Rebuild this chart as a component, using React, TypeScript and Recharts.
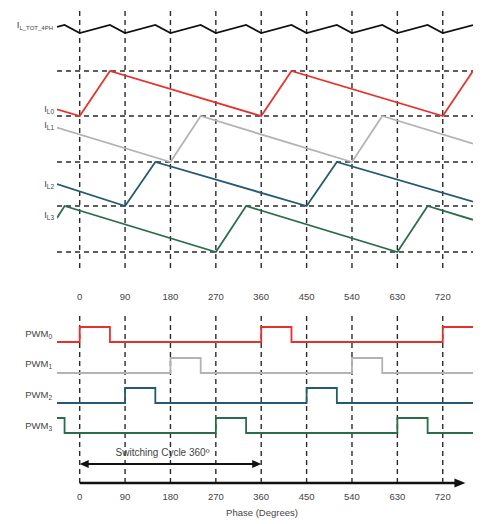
import React from 'react';
import { ComposedChart, Line, XAxis, YAxis, ReferenceLine } from 'recharts';

// ---------- data ----------
const phaseTicks = [0, 90, 180, 270, 360, 450, 540, 630, 720];
const phaseMin = -45;
const phaseMax = 780;

// total inductor current (normalised ripple 0..1)
const totPhase = [-45, -30, 0, 60, 90, 150, 180, 240, 270, 330, 360, 420, 450, 510, 540, 600, 630, 690, 720, 780];
const totCurrent = [0.75, 1, 0, 1, 0, 1, 0, 1, 0, 1, 0, 1, 0, 1, 0, 1, 0, 1, 0, 1];

// phase currents (normalised 0..1)
const il0Phase = [-45, 0, 60, 360, 420, 720, 780];
const il0Current = [0.15, 0, 1, 0, 1, 0, 1];
const il1Phase = [-45, 180, 240, 540, 600, 780];
const il1Current = [0.75, 0, 1, 0, 1, 0.4];
const il2Phase = [-45, 90, 150, 450, 510, 780];
const il2Current = [0.5, 0, 1, 0, 1, 0.1];
const il3Phase = [-45, -30, 270, 330, 630, 690, 780];
const il3Current = [0.74, 1, 0, 1, 0, 1, 0.7];

// PWM states (0 = low, 1 = high), step after each phase
const pwm0Phase = [-45, 0, 60, 360, 420, 720, 780];
const pwm0State = [0, 1, 0, 1, 0, 1, 1];
const pwm1Phase = [-45, 180, 240, 540, 600, 780];
const pwm1State = [0, 1, 0, 1, 0, 0];
const pwm2Phase = [-45, 90, 150, 450, 510, 780];
const pwm2State = [0, 1, 0, 1, 0, 0];
const pwm3Phase = [-45, -30, 270, 330, 630, 690, 780];
const pwm3State = [1, 0, 1, 0, 1, 0, 0];

const switchingCycle = [0, 360];
const axisArrowEnd = 765;

// ---------- styles / layout ----------
const FONT = '"Liberation Sans", Arial, Helvetica, sans-serif';
const TEXT = '#444';
const GRID = '#2b2b2b';
const RED = '#e8302a';
const GRAY = '#b3b3b3';
const BLUE = '#225a72';
const GREEN = '#2a6d4a';
const BLACK = '#111';

const W = 500;
const H = 524;
const LEFT = 57;
const RIGHT = 27;

// chart 1 plot area
const T1 = 8;
const B1 = 268;
const CH1 = 310;
// chart 2 plot area
const T2 = 312;
const B2 = 483;

const toPoints = (ps: number[], vs: number[]) => ps.map((p, i) => ({ p, v: vs[i] }));

// domain so that value 0 lands at pixel y0 and value 1 at pixel y1
const domainFor = (y0: number, y1: number, top: number, bottom: number): [number, number] => {
  const u = y0 - y1;
  const a = -(bottom - y0) / u;
  return [a, a + (bottom - top) / u];
};

const rows1 = {
  tot: domainFor(33, 25, T1, B1),
  l0: domainFor(116, 71, T1, B1),
  l1: domainFor(162, 116, T1, B1),
  l2: domainFor(206, 162, T1, B1),
  l3: domainFor(252, 206, T1, B1),
};
const rows2 = {
  p0: domainFor(342, 327, T2, B2),
  p1: domainFor(373, 358, T2, B2),
  p2: domainFor(403, 388, T2, B2),
  p3: domainFor(433, 418, T2, B2),
};
const switchArrowLevel = (B2 - 464) / (B2 - T2);

const dash = { stroke: GRID, strokeWidth: 1.4, strokeDasharray: '5 4' };

const DoubleArrow = (props: any) => {
  const { x1, y1, x2 } = props;
  const y = y1;
  const hl = 9;
  const hw = 4;
  return (
    <g>
      <line x1={x1 + hl - 1} y1={y} x2={x2 - hl + 1} y2={y} stroke={BLACK} strokeWidth={1.8} />
      <polygon points={`${x1},${y} ${x1 + hl},${y - hw} ${x1 + hl},${y + hw}`} fill={BLACK} />
      <polygon points={`${x2},${y} ${x2 - hl},${y - hw} ${x2 - hl},${y + hw}`} fill={BLACK} />
      <text x={(x1 + x2) / 2 - 8} y={y - 8} textAnchor="middle" fontSize={10} fill={TEXT} fontFamily={FONT}>
        Switching Cycle 360º
      </text>
    </g>
  );
};

const AxisArrow = (props: any) => {
  const { x1, y1, x2 } = props;
  const y = y1;
  const hl = 11;
  const hw = 4.5;
  return (
    <g>
      <line x1={x1} y1={y} x2={x2 - hl + 1} y2={y} stroke={BLACK} strokeWidth={2.4} />
      <polygon points={`${x2},${y} ${x2 - hl},${y - hw} ${x2 - hl},${y + hw}`} fill={BLACK} />
    </g>
  );
};

const tickStyle = { fontSize: 9.5, fill: TEXT, fontFamily: FONT };

const SideLabel = ({ x, y, main, sub, subSize = 6.5 }: { x: number; y: number; main: string; sub: string; subSize?: number }) => (
  <text x={x} y={y + 3.4} textAnchor="end" fontSize={9.5} fill={TEXT} fontFamily={FONT}>
    {main}
    <tspan fontSize={subSize} dy={1.8}>{sub}</tspan>
  </text>
);

export default function App() {
  return (
    <div style={{ position: 'absolute', left: 0, top: 0, width: W, height: H, background: '#fff' }}>
      {/* upper chart: inductor currents */}
      <div style={{ position: 'absolute', left: 0, top: 0 }}>
        <ComposedChart width={W} height={CH1} margin={{ top: T1, right: RIGHT, bottom: CH1 - B1 - 30, left: LEFT }}>
          <XAxis
            dataKey="p"
            type="number"
            domain={[phaseMin, phaseMax]}
            allowDataOverflow
            ticks={phaseTicks}
            interval={0}
            axisLine={false}
            tickLine={false}
            tickSize={0}
            tickMargin={25}
            height={30}
            tick={tickStyle}
          />
          <YAxis yAxisId={0} hide type="number" domain={[0, 1]} allowDataOverflow />
          <YAxis yAxisId="tot" hide domain={rows1.tot} allowDataOverflow />
          <YAxis yAxisId="l0" hide domain={rows1.l0} allowDataOverflow />
          <YAxis yAxisId="l1" hide domain={rows1.l1} allowDataOverflow />
          <YAxis yAxisId="l2" hide domain={rows1.l2} allowDataOverflow />
          <YAxis yAxisId="l3" hide domain={rows1.l3} allowDataOverflow />
          {phaseTicks.map((t) => (
            <ReferenceLine key={'v' + t} yAxisId={0} x={t} {...dash} />
          ))}
          <ReferenceLine yAxisId="l0" y={1} {...dash} />
          <ReferenceLine yAxisId="l1" y={1} {...dash} />
          <ReferenceLine yAxisId="l2" y={1} {...dash} />
          <ReferenceLine yAxisId="l3" y={1} {...dash} />
          <ReferenceLine yAxisId="l3" y={0} {...dash} />
          <Line yAxisId="tot" data={toPoints(totPhase, totCurrent)} dataKey="v" type="linear" stroke={BLACK} strokeWidth={1.7} dot={false} isAnimationActive={false} />
          <Line yAxisId="l0" data={toPoints(il0Phase, il0Current)} dataKey="v" type="linear" stroke={RED} strokeWidth={1.8} dot={false} isAnimationActive={false} />
          <Line yAxisId="l1" data={toPoints(il1Phase, il1Current)} dataKey="v" type="linear" stroke={GRAY} strokeWidth={1.8} dot={false} isAnimationActive={false} />
          <Line yAxisId="l2" data={toPoints(il2Phase, il2Current)} dataKey="v" type="linear" stroke={BLUE} strokeWidth={1.8} dot={false} isAnimationActive={false} />
          <Line yAxisId="l3" data={toPoints(il3Phase, il3Current)} dataKey="v" type="linear" stroke={GREEN} strokeWidth={1.8} dot={false} isAnimationActive={false} />
        </ComposedChart>
      </div>

      {/* lower chart: PWM signals */}
      <div style={{ position: 'absolute', left: 0, top: 0 }}>
        <ComposedChart width={W} height={H} margin={{ top: T2, right: RIGHT, bottom: H - B2 - 30, left: LEFT }}>
          <XAxis
            dataKey="p"
            type="number"
            domain={[phaseMin, phaseMax]}
            allowDataOverflow
            ticks={phaseTicks}
            interval={0}
            axisLine={false}
            tickLine={false}
            tickSize={0}
            tickMargin={10}
            height={30}
            tick={tickStyle}
          />
          <YAxis yAxisId={0} hide type="number" domain={[0, 1]} allowDataOverflow />
          <YAxis yAxisId="p0" hide domain={rows2.p0} allowDataOverflow />
          <YAxis yAxisId="p1" hide domain={rows2.p1} allowDataOverflow />
          <YAxis yAxisId="p2" hide domain={rows2.p2} allowDataOverflow />
          <YAxis yAxisId="p3" hide domain={rows2.p3} allowDataOverflow />
          {phaseTicks.map((t) => (
            <ReferenceLine key={'w' + t} yAxisId={0} x={t} {...dash} />
          ))}
          <Line yAxisId="p0" data={toPoints(pwm0Phase, pwm0State)} dataKey="v" type="stepAfter" stroke={RED} strokeWidth={1.8} dot={false} isAnimationActive={false} />
          <Line yAxisId="p1" data={toPoints(pwm1Phase, pwm1State)} dataKey="v" type="stepAfter" stroke={GRAY} strokeWidth={1.8} dot={false} isAnimationActive={false} />
          <Line yAxisId="p2" data={toPoints(pwm2Phase, pwm2State)} dataKey="v" type="stepAfter" stroke={BLUE} strokeWidth={1.8} dot={false} isAnimationActive={false} />
          <Line yAxisId="p3" data={toPoints(pwm3Phase, pwm3State)} dataKey="v" type="stepAfter" stroke={GREEN} strokeWidth={1.8} dot={false} isAnimationActive={false} />
          <ReferenceLine
            yAxisId={0}
            segment={[{ x: switchingCycle[0], y: switchArrowLevel }, { x: switchingCycle[1], y: switchArrowLevel }]}
            shape={DoubleArrow}
          />
          <ReferenceLine
            yAxisId={0}
            segment={[{ x: 0, y: 0 }, { x: axisArrowEnd, y: 0 }]}
            shape={AxisArrow}
          />
        </ComposedChart>
      </div>

      {/* side labels */}
      <svg width={W} height={H} style={{ position: 'absolute', left: 0, top: 0, pointerEvents: 'none' }}>
        <SideLabel x={53} y={24.5} main="I" sub="L_TOT_4PH" subSize={6} />
        <SideLabel x={54} y={109} main="I" sub="L0" />
        <SideLabel x={54} y={124.5} main="I" sub="L1" />
        <SideLabel x={54} y={183.5} main="I" sub="L2" />
        <SideLabel x={54} y={215} main="I" sub="L3" />
        <SideLabel x={52} y={334} main="PWM" sub="0" />
        <SideLabel x={52} y={364} main="PWM" sub="1" />
        <SideLabel x={52} y={395} main="PWM" sub="2" />
        <SideLabel x={52} y={425.5} main="PWM" sub="3" />
        <text x={262} y={515.5} textAnchor="middle" fontSize={9.5} fill={TEXT} fontFamily={FONT}>
          Phase (Degrees)
        </text>
      </svg>
    </div>
  );
}
